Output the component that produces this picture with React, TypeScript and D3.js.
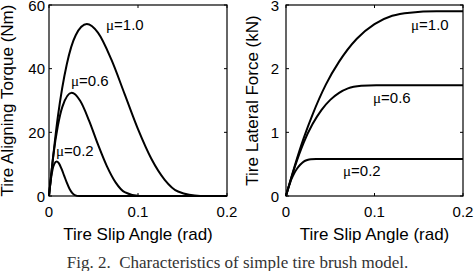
import React from 'react'
import * as d3 from 'd3'

// slip angle (rad) vs aligning torque (Nm)
const torqueMu10: [number, number][] = [
  [0, 0], [0.01, 25], [0.02, 41.4], [0.03, 50.5], [0.0425, 54], [0.055, 51.3], [0.07, 42.9],
  [0.085, 32], [0.1, 21], [0.115, 11.7], [0.13, 5.1], [0.145, 1.4], [0.17, 0], [0.2, 0],
]
const torqueMu06: [number, number][] = [
  [0, 0], [0.005, 13], [0.01, 22.1], [0.015, 28], [0.0255, 32.4], [0.035, 29.9], [0.045, 23.7],
  [0.055, 16.2], [0.065, 9.4], [0.075, 4.2], [0.085, 1.2], [0.102, 0], [0.2, 0],
]
const torqueMu02: [number, number][] = [
  [0, 0], [0.002, 5], [0.004, 8.3], [0.006, 10.1], [0.0085, 10.8], [0.011, 10.3], [0.014, 8.6],
  [0.017, 6.4], [0.02, 4.2], [0.023, 2.3], [0.026, 1], [0.029, 0.3], [0.034, 0], [0.2, 0],
]

// slip angle (rad) vs lateral force (kN), right panel
const forceMu10: [number, number][] = [
  [0, 0], [0.01, 0.48], [0.02, 0.91], [0.03, 1.28], [0.045, 1.75], [0.06, 2.11], [0.08, 2.47],
  [0.1, 2.7], [0.12, 2.83], [0.14, 2.88], [0.17, 2.9], [0.2, 2.9],
]
const forceMu06: [number, number][] = [
  [0, 0], [0.005, 0.24], [0.01, 0.46], [0.02, 0.84], [0.03, 1.13], [0.04, 1.35], [0.05, 1.51],
  [0.06, 1.62], [0.07, 1.69], [0.085, 1.73], [0.102, 1.74], [0.2, 1.74],
]
const forceMu02: [number, number][] = [
  [0, 0], [0.002, 0.1], [0.004, 0.18], [0.006, 0.26], [0.009, 0.35], [0.012, 0.42], [0.016, 0.49],
  [0.02, 0.54], [0.024, 0.565], [0.028, 0.577], [0.034, 0.58], [0.2, 0.58],
]

const xTicks = [0, 0.1, 0.2]
const xTickLabels = ['0', '0.1', '0.2']
const torqueTicks = [0, 20, 40, 60]
const forceTicks = [0, 1, 2, 3]

const muLabels = ['\u03bc=1.0', '\u03bc=0.6', '\u03bc=0.2']

const W = 474
const H = 271
const sans = 'Arial, "Liberation Sans", sans-serif'

interface PanelProps {
  left: number
  right: number
  top: number
  bottom: number
  yMax: number
  yTicks: number[]
  yTitle: string
  yTitleX: number
  yLabelX: number
  series: [number, number][][]
  labelPos: [number, number][]
}

const Panel: React.FC<PanelProps> = ({ left, right, top, bottom, yMax, yTicks, yTitle, yTitleX, yLabelX, series, labelPos }) => {
  const x = d3.scaleLinear().domain([0, 0.2]).range([left, right])
  const y = d3.scaleLinear().domain([0, yMax]).range([bottom, top])
  const line = d3.line<[number, number]>()
    .x(d => x(d[0]))
    .y(d => y(d[1]))
    .curve(d3.curveMonotoneX)
  const tk = 3

  return (
    <g>
      {series.map((s, i) => (
        <path key={i} d={line(s) || ''} fill="none" stroke="#000" strokeWidth={2} strokeLinejoin="round" />
      ))}
      <rect x={left} y={top} width={right - left} height={bottom - top} fill="none" stroke="#000" strokeWidth={1.2} />
      {xTicks.map((t, i) => (
        <g key={'x' + i}>
          <line x1={x(t)} x2={x(t)} y1={bottom} y2={bottom - tk} stroke="#000" />
          <line x1={x(t)} x2={x(t)} y1={top} y2={top + tk} stroke="#000" />
          <text x={x(t)} y={217} textAnchor="middle" fontSize={15} fontFamily={sans}>{xTickLabels[i]}</text>
        </g>
      ))}
      {yTicks.map((t, i) => (
        <g key={'y' + i}>
          <line x1={left} x2={left + tk} y1={y(t)} y2={y(t)} stroke="#000" />
          <line x1={right} x2={right - tk} y1={y(t)} y2={y(t)} stroke="#000" />
          <text x={yLabelX} y={y(t) + 5.5} textAnchor="end" fontSize={15} fontFamily={sans}>{t}</text>
        </g>
      ))}
      <text x={(left + right) / 2} y={240} textAnchor="middle" fontSize={17} fontFamily={sans}>Tire Slip Angle (rad)</text>
      <text transform={`translate(${yTitleX},${(top + bottom) / 2}) rotate(-90)`} textAnchor="middle" fontSize={17} fontFamily={sans}>{yTitle}</text>
      {labelPos.map((p, i) => (
        <text key={'m' + i} x={p[0]} y={p[1]} fontSize={15} fontFamily={sans}>
          <tspan fontFamily='"Liberation Serif", serif'>{'\u03bc'}</tspan>{muLabels[i].slice(1)}
        </text>
      ))}
    </g>
  )
}

export default function App() {
  return (
    <svg width={W} height={H} style={{ position: 'fixed', left: 0, top: 0, background: '#fff' }}>
      <rect width={W} height={H} fill="#fff" />
      <Panel
        left={49} right={227} top={5} bottom={196}
        yMax={60} yTicks={torqueTicks}
        yTitle="Tire Aligning Torque (Nm)" yTitleX={13} yLabelX={45}
        series={[torqueMu10, torqueMu06, torqueMu02]}
        labelPos={[[106, 30], [71, 86], [56, 156]]}
      />
      <Panel
        left={286} right={463} top={5} bottom={196}
        yMax={3} yTicks={forceTicks}
        yTitle="Tire Lateral Force (kN)" yTitleX={258} yLabelX={279}
        series={[forceMu10, forceMu06, forceMu02]}
        labelPos={[[411, 30], [373, 103], [343, 176]]}
      />
      <text x={237.5} y={268} textAnchor="middle" fontSize={17} fontFamily='"Liberation Serif", "Times New Roman", serif' fill="#333">
        {'Fig. 2.\u00a0 Characteristics of simple tire brush model.'}
      </text>
    </svg>
  )
}
